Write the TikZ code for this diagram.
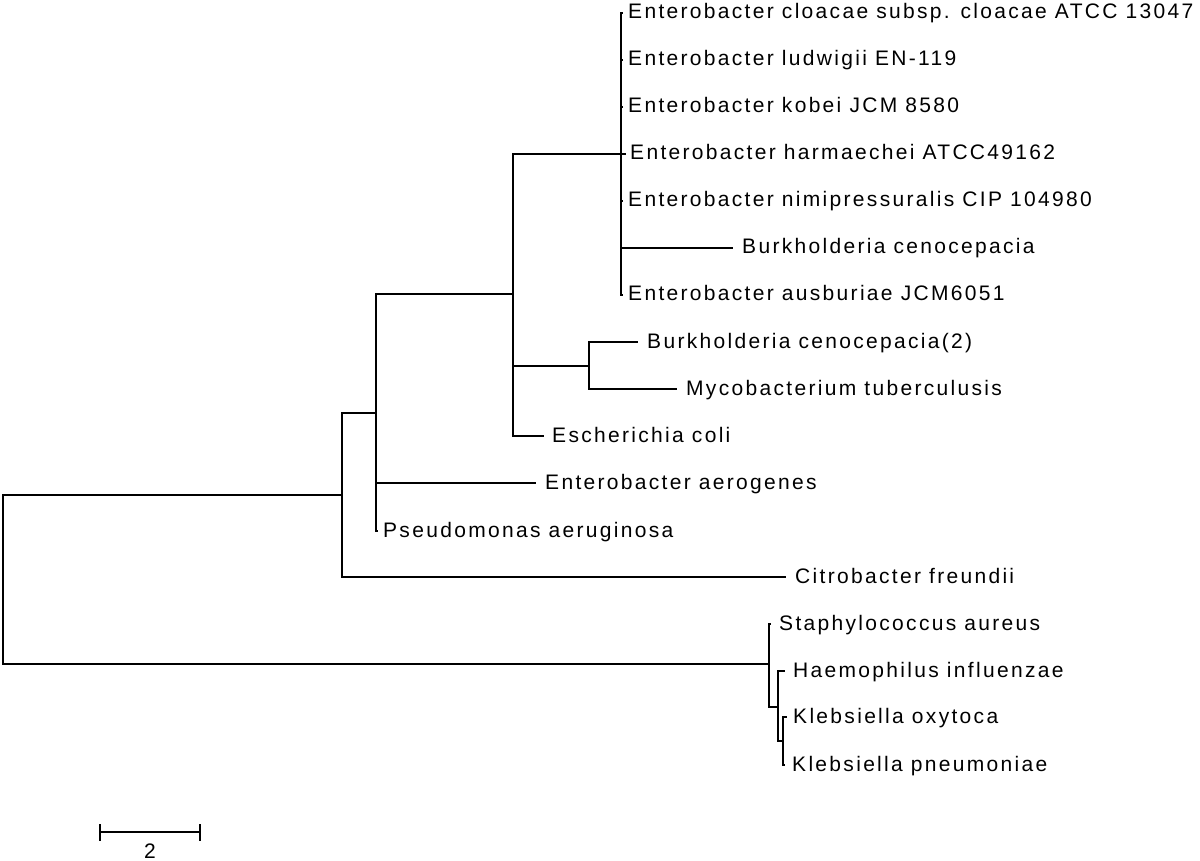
\documentclass[tikz,border=0pt]{standalone}
\usepackage{fontspec}
\setmainfont{Liberation Sans}[LetterSpace=11]
\begin{document}
\begin{tikzpicture}[x=1pt,y=-1pt,
  br/.style={line width=2pt, line cap=rect},
  lab/.style={anchor=base west, inner sep=0pt, font=\fontsize{21}{21}\selectfont},
  tk/.style={line width=2pt}]
\useasboundingbox (0,0) rectangle (1200,861);
% internal nodes
\coordinate (R)  at (2.5,580);
\coordinate (N1) at (342,495);
\coordinate (N2) at (376,413);
\coordinate (N3) at (513,294);
\coordinate (N4) at (621,154);
\coordinate (N5) at (589,366);
\coordinate (N6) at (769,664);
\coordinate (N7) at (778,707);
\coordinate (N8) at (783,741);
% leaf tips
\coordinate (L1)  at (622,13);
\coordinate (L2)  at (622,60);
\coordinate (L3)  at (622,107);
\coordinate (L4)  at (625,154);
\coordinate (L5)  at (622,201);
\coordinate (L6)  at (732,248);
\coordinate (L7)  at (622,295);
\coordinate (L8)  at (637,342);
\coordinate (L9)  at (676,389);
\coordinate (L10) at (543,436);
\coordinate (L11) at (535,483);
\coordinate (L12) at (377,531);
\coordinate (L13) at (785,577);
\coordinate (L14) at (770,624);
\coordinate (L15) at (784,671);
\coordinate (L16) at (786,717);
\coordinate (L17) at (784,765);
% branches
\draw[br] (R) |- (N1);
\draw[br] (R) |- (N6);
\draw[br] (N1) |- (N2);
\draw[br] (N1) |- (L13);
\draw[br] (N2) |- (N3);
\draw[br] (N2) |- (L11);
\draw[br] (N2) |- (L12);
\draw[br] (N3) |- (N4);
\draw[br] (N3) |- (N5);
\draw[br] (N3) |- (L10);
\draw[br] (N4) |- (L1);
\draw[br] (N4) |- (L2);
\draw[br] (N4) |- (L3);
\draw[br] (N4) |- (L4);
\draw[br] (N4) |- (L5);
\draw[br] (N4) |- (L6);
\draw[br] (N4) |- (L7);
\draw[br] (N5) |- (L8);
\draw[br] (N5) |- (L9);
\draw[br] (N6) |- (L14);
\draw[br] (N6) |- (N7);
\draw[br] (N7) |- (L15);
\draw[br] (N7) |- (N8);
\draw[br] (N8) |- (L16);
\draw[br] (N8) |- (L17);
% labels
\node[lab] (T1)  at ([xshift=6pt,yshift=-6pt]L1)  {Enterobacter cloacae subsp. cloacae ATCC 13047};
\node[lab] (T2)  at ([xshift=6pt,yshift=-6pt]L2)  {Enterobacter ludwigii EN-119};
\node[lab] (T3)  at ([xshift=6pt,yshift=-6pt]L3)  {Enterobacter kobei JCM 8580};
\node[lab] (T4)  at ([xshift=5pt,yshift=-6pt]L4)  {Enterobacter harmaechei ATCC49162};
\node[lab] (T5)  at ([xshift=6pt,yshift=-6pt]L5)  {Enterobacter nimipressuralis CIP 104980};
\node[lab] (T6)  at ([xshift=10pt,yshift=-6pt]L6)  {Burkholderia cenocepacia};
\node[lab] (T7)  at ([xshift=6pt,yshift=-6pt]L7)  {Enterobacter ausburiae JCM6051};
\node[lab] (T8)  at ([xshift=10pt,yshift=-6pt]L8)  {Burkholderia cenocepacia(2)};
\node[lab] (T9)  at ([xshift=10pt,yshift=-6pt]L9)  {Mycobacterium tuberculusis};
\node[lab] (T10) at ([xshift=9pt,yshift=-6pt]L10) {Escherichia coli};
\node[lab] (T11) at ([xshift=10pt,yshift=-6pt]L11) {Enterobacter aerogenes};
\node[lab] (T12) at ([xshift=6pt,yshift=-6pt]L12) {Pseudomonas aeruginosa};
\node[lab] (T13) at ([xshift=10pt,yshift=-6pt]L13) {Citrobacter freundii};
\node[lab] (T14) at ([xshift=9pt,yshift=-6pt]L14) {Staphylococcus aureus};
\node[lab] (T15) at ([xshift=9pt,yshift=-6pt]L15) {Haemophilus influenzae};
\node[lab] (T16) at ([xshift=7pt,yshift=-6pt]L16) {Klebsiella oxytoca};
\node[lab] (T17) at ([xshift=8pt,yshift=-6pt]L17) {Klebsiella pneumoniae};
% scale bar
\coordinate (S1) at (99.5,832);
\coordinate (S2) at (199.5,832);
\draw[tk] (S1) -- (S2);
\draw[tk] ([yshift=-8.5pt]S1) -- ([yshift=8.5pt]S1);
\draw[tk] ([yshift=-8.5pt]S2) -- ([yshift=8.5pt]S2);
\node[lab, anchor=base] (SL) at (150,858) {2};
\end{tikzpicture}
\end{document}
